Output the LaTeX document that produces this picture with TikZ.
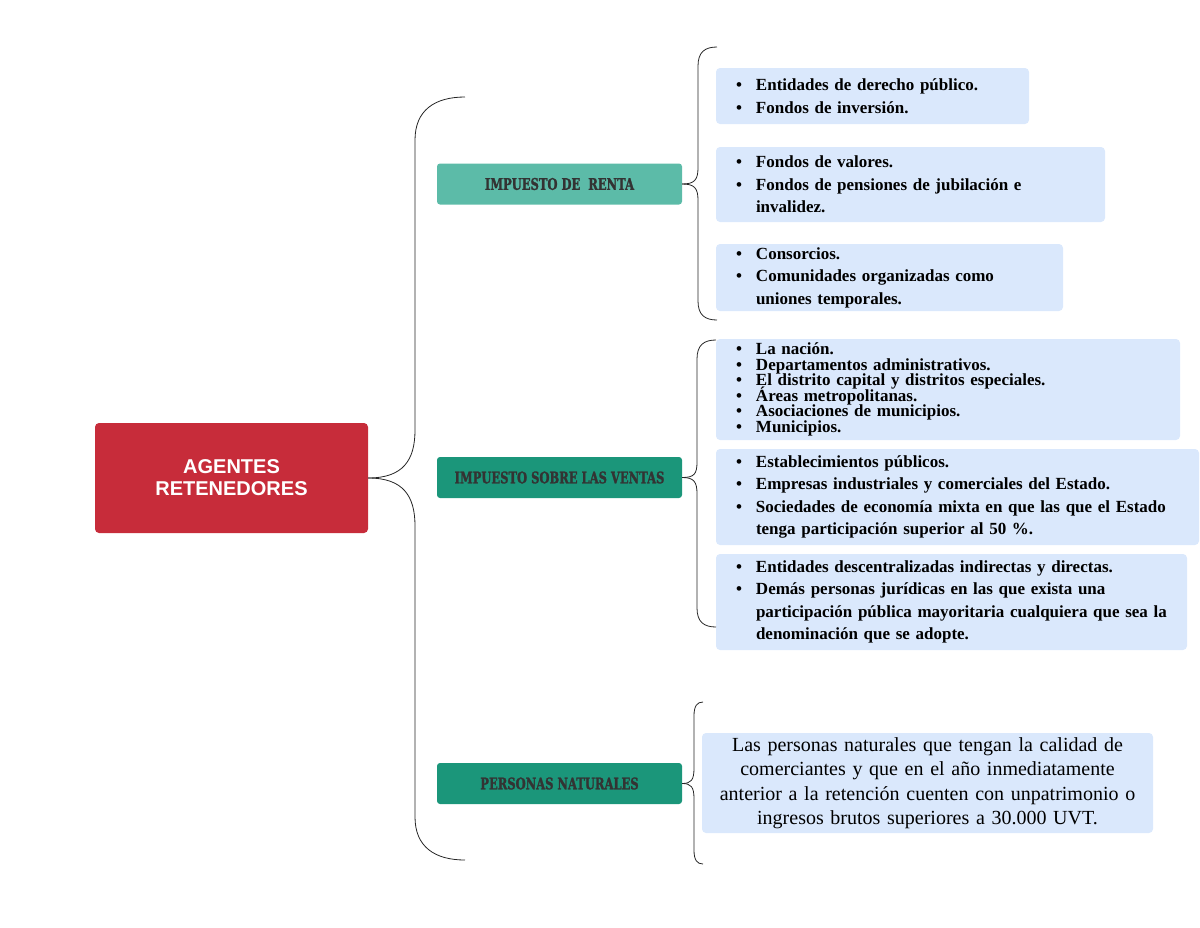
\documentclass[tikz,border=0pt]{standalone}
\usepackage{fontspec}
\setmainfont{Liberation Serif}
\newfontfamily\tagfont[FakeStretch=0.72,FakeBold=1.5]{DejaVu Serif}
\newfontfamily\headfont{Liberation Sans}
\definecolor{agentred}{HTML}{C72C3A}
\definecolor{tealA}{HTML}{5CBBA8}
\definecolor{tealB}{HTML}{1B967A}
\definecolor{listblue}{HTML}{DAE8FC}
\definecolor{tagtext}{HTML}{333333}
\newcommand{\itm}{\makebox[20pt][l]{\textbullet}}
\newcommand{\cnt}{\hspace*{20pt}}
\newcommand{\tightlines}{\lineskiplimit=-100pt\relax}
\tikzset{
	mainbox/.style={fill=agentred, rounded corners=4pt, minimum width=273pt, minimum height=110pt, align=center, text=white, font=\headfont\bfseries\fontsize{20}{22}\selectfont},
	tagbox/.style={fill=#1, rounded corners=3pt, minimum width=245pt, minimum height=41pt, text=tagtext, font=\tagfont\bfseries\fontsize{16}{18}\selectfont},
	listbox/.style={fill=listblue, rounded corners=4pt, inner xsep=20pt, inner ysep=0pt, align=left, font=\bfseries\fontsize{17}{22.5}\selectfont},
	brace/.style={draw=black!85, line width=0.8pt}
}
\begin{document}
\begin{tikzpicture}[x=1pt, y=-1pt]
	\useasboundingbox (0,0) rectangle (1200,927);
	\node [mainbox] (agentes) at (231.5,478) {AGENTES\\RETENEDORES};
	\node [tagbox=tealA] (renta) at (559.5,184) {IMPUESTO DE\ \ RENTA};
	\node [tagbox=tealB] (ventas) at (559.5,477.5) {IMPUESTO SOBRE LAS VENTAS};
	\node [tagbox=tealB] (naturales) at (559.5,783.5) {PERSONAS NATURALES};
	\node [listbox, minimum width=313pt, text width=273pt, minimum height=56pt] (r1) at (872.5,96) {\itm Entidades de derecho público.\\\itm Fondos de inversión.};
	\node [listbox, minimum width=389pt, text width=349pt, minimum height=75pt] (r2) at (910.5,184.5) {\itm Fondos de valores.\\\itm Fondos de pensiones de jubilación e\\\cnt invalidez.};
	\node [listbox, minimum width=347pt, text width=307pt, minimum height=67pt] (r3) at (889.5,277.5) {\itm Consorcios.\\\itm Comunidades organizadas como\\\cnt uniones temporales.};
	\node [listbox, minimum width=464pt, text width=424pt, minimum height=101pt, font=\bfseries\fontsize{17}{15.5}\selectfont] (v1) at (948,389.5) {\tightlines\itm La nación.\\\itm Departamentos administrativos.\\\itm El distrito capital y distritos especiales.\\\itm Áreas metropolitanas.\\\itm Asociaciones de municipios.\\\itm Municipios.};
	\node [listbox, minimum width=483pt, text width=443pt, minimum height=96pt] (v2) at (957.5,497) {\itm Establecimientos públicos.\\\itm Empresas industriales y comerciales del Estado.\\\itm Sociedades de economía mixta en que las que el Estado\\\cnt tenga participación superior al 50 \%.};
	\node [listbox, minimum width=471pt, text width=431pt, minimum height=96pt] (v3) at (951.5,602) {\itm Entidades descentralizadas indirectas y directas.\\\itm Demás personas jurídicas en las que exista una\\\cnt participación pública mayoritaria cualquiera que sea la\\\cnt denominación que se adopte.};
	\node [listbox, align=center, inner xsep=8pt, minimum width=451pt, text width=435pt, minimum height=100pt, font=\fontsize{20}{24.5}\selectfont] (n1) at (927.5,783) {Las personas naturales que tengan la calidad de\\comerciantes y que en el año inmediatamente\\anterior a la retención cuenten con unpatrimonio o\\ingresos brutos superiores a 30.000 UVT.};
	\coordinate (agentes top) at (465,97);
	\coordinate (agentes bottom) at (465,860);
	\coordinate (renta top) at (717,47);
	\coordinate (renta bottom) at (717,320);
	\coordinate (ventas top) at (716,340);
	\coordinate (ventas bottom) at (716,627);
	\coordinate (naturales top) at (703,702);
	\coordinate (naturales bottom) at (703,864);
	\draw [brace] (agentes.east) .. controls +(35,0) and +(0,30) .. (415,430) -- (415,140) .. controls +(0,-30) and +(-30,0) .. (agentes top);
	\draw [brace] (agentes.east) .. controls +(35,0) and +(0,-30) .. (415,526) -- (415,817) .. controls +(0,30) and +(-30,0) .. (agentes bottom);
	\draw [brace] (renta.east) .. controls +(12,0) and +(0,12) .. (698,168) -- (698,66) .. controls +(0,-14) and +(-12,0) .. (renta top);
	\draw [brace] (renta.east) .. controls +(12,0) and +(0,-12) .. (698,200) -- (698,301) .. controls +(0,14) and +(-12,0) .. (renta bottom);
	\draw [brace] (ventas.east) .. controls +(12,0) and +(0,12) .. (697,462) -- (697,359) .. controls +(0,-14) and +(-12,0) .. (ventas top);
	\draw [brace] (ventas.east) .. controls +(12,0) and +(0,-12) .. (697,494) -- (697,608) .. controls +(0,14) and +(-12,0) .. (ventas bottom);
	\draw [brace] (naturales.east) .. controls +(9,0) and +(0,12) .. (694,768) -- (694,716) .. controls +(0,-10) and +(-6,0) .. (naturales top);
	\draw [brace] (naturales.east) .. controls +(9,0) and +(0,-12) .. (694,799) -- (694,850) .. controls +(0,10) and +(-6,0) .. (naturales bottom);
\end{tikzpicture}
\end{document}
